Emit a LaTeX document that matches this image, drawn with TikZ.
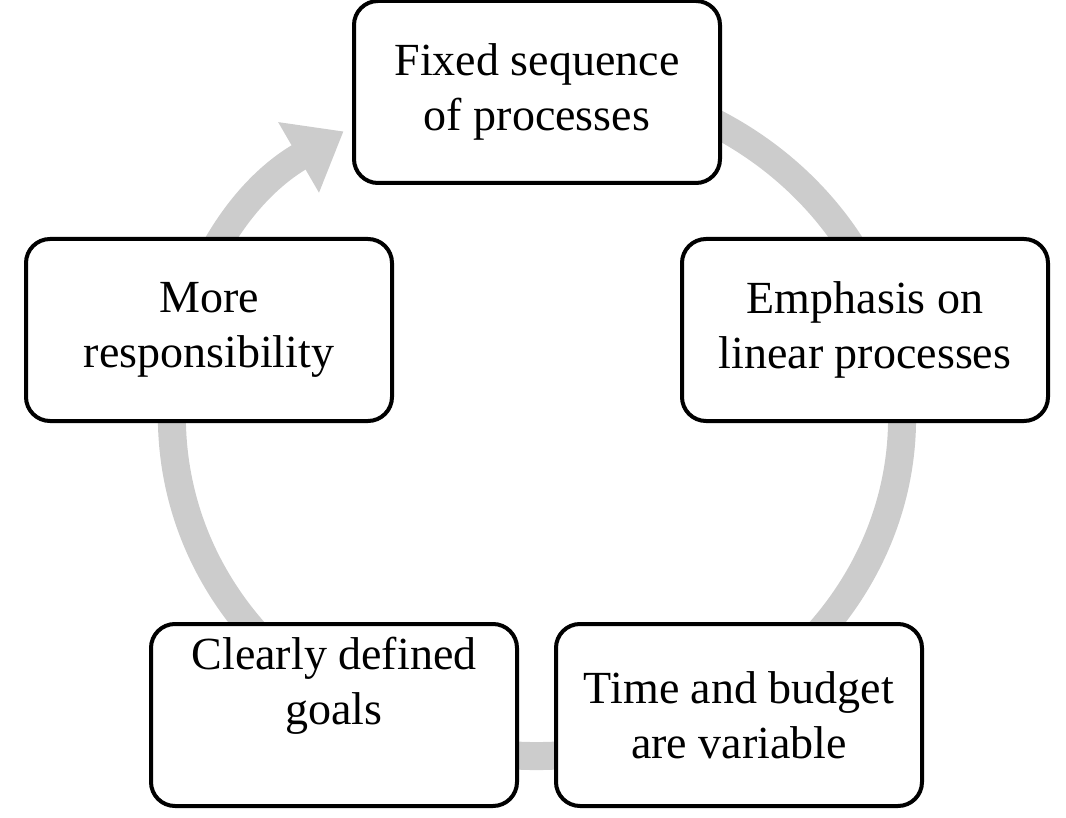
\documentclass[tikz,border=0pt]{standalone}
\usepackage{fontspec}
\setmainfont{Liberation Serif}
\usetikzlibrary{arrows.meta}
\begin{document}
\begin{tikzpicture}[x=1pt,y=-1pt,
  box/.style={draw,line width=4pt,rounded corners=24pt,fill=white,minimum width=366pt,minimum height=182pt,align=center,font=\fontsize{46}{55}\selectfont}]
\useasboundingbox (0,0) rectangle (1066,818);
\coordinate (c) at (537,418);
\draw[line width=28pt,color=black!20,-{Triangle[width=78pt,length=52pt]}]
  ([shift={(-100:365 and 338)}]c) arc[start angle=-100,end angle=238,x radius=365,y radius=338];
\node[box] (a) at (537,92) {Fixed sequence\\of processes};
\node[box] (b) at (865,330) {Emphasis on\\linear processes};
\node[box] (d) at (739,715) {Time and budget\\are variable};
\node[box] (e) at (334,715) {Clearly defined\\goals\\[14pt]};
\node[box] (f) at (209,330) {More\\responsibility};
\end{tikzpicture}
\end{document}
